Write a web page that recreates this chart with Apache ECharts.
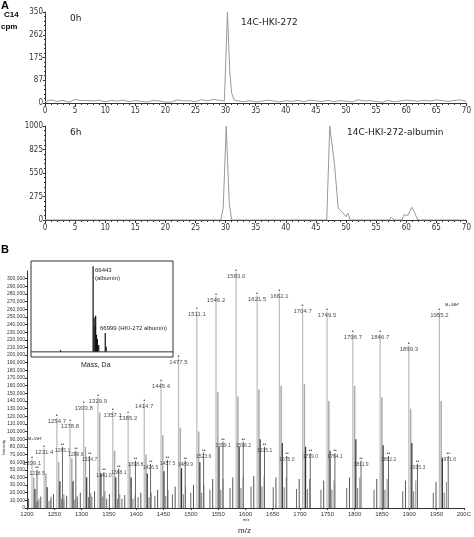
<!DOCTYPE html>
<html><head><meta charset="utf-8">
<script src="https://cdn.jsdelivr.net/npm/echarts@6/dist/echarts.min.js"></script>
<style>html,body{margin:0;padding:0;background:#fff}#main{width:474px;height:537px}</style>
</head><body><div id="main"></div>
<script>
// panel A, radiochromatograms (minutes, cpm)
var trace0h = [[0,5],[1,12],[2,6],[3,10],[4,3],[5,14],[6,9],[7,10],[8,8],[9,11],[10,4],[11,10],[12,7],[13,11],[14,5],[15,9],[16,6],[17,4],[18,10],[19,8],[20,3],[21,4],[22,12],[23,8],[24,9],[25,5],[26,13],[27,8],[28,14],[29,10],[29.8,8],[30.3,350],[30.7,120],[31,38],[31.4,12],[32,8],[33,5],[34,9],[35,4],[36,7],[37,11],[38,8],[39,4],[40,9],[41,6],[42,10],[43,5],[44,11],[45,8],[46,6],[47,10],[48,5],[49,9],[50,7],[51,4],[52,12],[53,8],[54,9],[55,6],[56,3],[57,10],[58,5],[59,8],[60,11],[61,9],[62,7],[63,10],[64,8],[65,12],[66,9],[67,6],[68,10],[69,12],[70,5]];
var trace6h = [[0,0],[29.2,0],[29.6,140],[30.1,1100],[30.6,200],[31,0],[46.8,0],[47.3,1100],[48.1,640],[48.7,140],[49.4,90],[50,40],[50.3,80],[50.7,0],[57.2,0],[57.5,35],[58,0],[59.3,0],[59.6,60],[60.3,55],[60.9,150],[61.2,170],[61.5,70],[61.9,0],[70,0]];
var yTicks0h = ['0','87','175','262','350'];
var yTicks6h = ['0','275','550','825','1000'];

// panel B, ESI spectrum
var starMz = [1209.1,1231.4,1254.7,1278.8,1303.8,1329.9,1357.1,1385.2,1414.7,1445.4,1477.5,1511.1,1546.2,1583.0,1621.5,1662.1,1704.7,1749.5,1796.7,1846.7,1899.3,1955.2];
var starInt = [64000,78000,118000,112000,135000,145000,127000,122000,138000,165000,196000,258000,277000,308000,278000,282000,262000,257000,228000,228000,213000,257000];
var grayInt = [40000,45000,60000,65000,80000,125000,75000,60000,70000,95000,105000,100000,152000,146000,155000,160000,162000,140000,160000,145000,130000,140000];
var darkInt = [25000,27000,35000,35000,40000,45000,40000,40000,45000,48000,52000,60000,80000,80000,90000,85000,80000,75000,90000,82000,85000,65000];
var lowA = [12000,15000,18000,16000,20000,22000,18000,17000,20000,24000,28000,30000,38000,40000,42000,40000,38000,36000,40000,38000,36000,34000];
var lowB = [8000,9000,12000,11000,14000,15000,12000,12000,14000,16000,18000,20000,24000,26000,28000,27000,25000,24000,26000,24000,22000,20000];
var dstarMz = [1218.5,1265.1,1289.6,1314.7,1341.0,1368.1,1398.8,1426.5,1457.5,1489.9,1523.6,1559.1,1596.2,1635.1,1676.0,1719.0,1764.1,1811.9,1862.2,1915.3,1971.6];
var dstarInt = [50000,80000,75000,68000,47000,52000,62000,58000,63000,62000,73000,87000,87000,80000,68000,72000,72000,62000,68000,58000,68000];

// inset, deconvoluted mass
var insetMass = [64950,66443,66490,66530,66560,66600,66640,66700,66999,67040];
var insetInt = [2,100,40,30,42,20,15,8,22,6];

var chart = echarts.init(document.getElementById('main'));
var F = 'Liberation Sans';
var mk = function (xs, ys, off) { return xs.map(function (x, i) { return [x + off, ys[i]]; }); };

function chromX(gi) {
    return {gridIndex: gi, type: 'value', min: 0, max: 70, interval: 5,
        axisLine: {onZero: false, lineStyle: {color: '#333'}},
        axisTick: {length: 3, lineStyle: {color: '#333'}},
        minorTick: {show: true, splitNumber: 5, length: 2, lineStyle: {color: '#333'}},
        axisLabel: {fontFamily: 'DejaVu Sans Condensed', fontSize: 8, color: '#333', margin: 4},
        splitLine: {show: false}};
}
function chromY(gi, max, step, ticks) {
    return {gridIndex: gi, type: 'value', min: 0, max: max, interval: step,
        axisLine: {show: true, lineStyle: {color: '#333'}}, axisTick: {show: true, length: 2},
        minorTick: {show: true, splitNumber: 5, length: 1},
        axisLabel: {fontFamily: 'DejaVu Sans Condensed', fontSize: 8, color: '#333', margin: 2,
            formatter: function (v) { return ticks[Math.round(v / step)]; }},
        splitLine: {show: false}};
}

chart.setOption({
    animation: false,
    grid: [
        {left: 45, right: 4, top: 12, height: 91},
        {left: 45, right: 4, top: 126, height: 94},
        {left: 27, right: 4, top: 271, bottom: 29},
        {left: 31, top: 261, width: 142, height: 96, show: true, backgroundColor: '#fff', borderColor: '#333', borderWidth: 1, z: 10}
    ],
    xAxis: [
        chromX(0), chromX(1),
        {gridIndex: 2, type: 'value', min: 1200, max: 2000, interval: 50,
            axisLine: {onZero: false, lineStyle: {color: '#333'}}, axisTick: {length: 2},
            axisLabel: {fontFamily: F, fontSize: 6, color: '#333', margin: 3,
                formatter: function (v) { return v === 2000 ? '200C' : v; }},
            splitLine: {show: false}},
        {gridIndex: 3, type: 'value', min: 63600, max: 70100, show: false, z: 11}
    ],
    yAxis: [
        chromY(0, 350, 87.5, yTicks0h),
        chromY(1, 1100, 275, yTicks6h),
        {gridIndex: 2, type: 'value', min: 0, max: 310000, interval: 10000,
            axisLine: {show: true, lineStyle: {color: '#333'}}, axisTick: {show: true, length: 2},
            axisLabel: {fontFamily: F, fontSize: 5, color: '#333', margin: 2, showMaxLabel: false},
            splitLine: {show: false}},
        {gridIndex: 3, type: 'value', min: -6, max: 106, show: false, z: 11}
    ],
    series: [
        {type: 'line', xAxisIndex: 0, yAxisIndex: 0, data: trace0h, symbol: 'none', lineStyle: {color: '#999', width: 1}},
        {type: 'line', xAxisIndex: 1, yAxisIndex: 1, data: trace6h, symbol: 'none', lineStyle: {color: '#999', width: 1}},
        {type: 'bar', xAxisIndex: 2, yAxisIndex: 2, barWidth: 1, barGap: '-100%', data: mk(starMz, lowA, -6), itemStyle: {color: '#555'}},
        {type: 'bar', xAxisIndex: 2, yAxisIndex: 2, barWidth: 1, barGap: '-100%', data: mk(starMz, lowB, 9), itemStyle: {color: '#777'}},
        {type: 'bar', xAxisIndex: 2, yAxisIndex: 2, barWidth: 1, barGap: '-100%', data: mk(starMz, lowB, -11), itemStyle: {color: '#666'}},
        {type: 'bar', xAxisIndex: 2, yAxisIndex: 2, barWidth: 1, barGap: '-100%', data: mk(starMz, lowA, 13), itemStyle: {color: '#888'}},
        {type: 'bar', xAxisIndex: 2, yAxisIndex: 2, barWidth: 1.5, barGap: '-100%', data: mk(starMz, grayInt, 3), itemStyle: {color: '#aaa'}},
        {type: 'bar', xAxisIndex: 2, yAxisIndex: 2, barWidth: 1.2, barGap: '-100%', data: mk(starMz, darkInt, 5.5), itemStyle: {color: '#333'}},
        {type: 'bar', xAxisIndex: 2, yAxisIndex: 2, barWidth: 1, barGap: '-100%', data: mk(dstarMz, dstarInt, 0), itemStyle: {color: '#666'}},
        {type: 'bar', xAxisIndex: 2, yAxisIndex: 2, barWidth: 1.2, barGap: '-100%', data: mk(starMz, starInt, 0),
            itemStyle: {color: '#bbb'}},
        {type: 'scatter', xAxisIndex: 2, yAxisIndex: 2, symbolSize: 0, z: 5,
            data: starMz.map(function (x, i) { return {value: [x, starInt[i]], name: x.toFixed(1)}; }),
            label: {show: true, position: 'bottom', distance: 0, offset: [0, -5], fontFamily: F, fontSize: 6, color: '#222', lineHeight: 6,
                formatter: function (p) { return '•\n' + p.name; }}},
        {type: 'scatter', xAxisIndex: 2, yAxisIndex: 2, symbolSize: 0, z: 5,
            data: dstarMz.map(function (x, i) { return {value: [x, dstarInt[i]], name: x.toFixed(1)}; }),
            label: {show: true, position: 'bottom', distance: 0, offset: [0, -5], fontFamily: F, fontSize: 5, color: '#222', lineHeight: 6,
                formatter: function (p) { return '••\n' + p.name; }}},
        {type: 'bar', xAxisIndex: 3, yAxisIndex: 3, barWidth: 1.2, z: 12, data: mk(insetMass, insetInt, 0), itemStyle: {color: '#111'}},
        {type: 'line', xAxisIndex: 3, yAxisIndex: 3, z: 12, symbol: 'none', data: [[63600, 0], [70100, 0]], lineStyle: {color: '#333', width: 1}}
    ],
    graphic: [
        {type: 'text', left: 1, top: 0, style: {text: 'A', font: 'bold 11px Liberation Sans', fill: '#000'}},
        {type: 'text', left: 4, top: 11, style: {text: 'C14', font: 'bold 8px Liberation Sans', fill: '#000'}},
        {type: 'text', left: 1, top: 23, style: {text: 'cpm', font: 'bold 8px Liberation Sans', fill: '#000'}},
        {type: 'text', left: 70, top: 14, style: {text: '0h', font: '9px DejaVu Sans', fill: '#222'}},
        {type: 'text', left: 241, top: 18, style: {text: '14C-HKI-272', font: '9px DejaVu Sans', fill: '#222'}},
        {type: 'text', left: 70, top: 128, style: {text: '6h', font: '9px DejaVu Sans', fill: '#222'}},
        {type: 'text', left: 347, top: 128, style: {text: '14C-HKI-272-albumin', font: '9px DejaVu Sans', fill: '#222'}},
        {type: 'text', left: 1, top: 244, style: {text: 'B', font: 'bold 11px Liberation Sans', fill: '#000'}},
        {type: 'text', left: 95, top: 266, z: 20, style: {text: '66443\n(albumin)', font: '6px Liberation Sans', lineHeight: 8, fill: '#222'}},
        {type: 'text', left: 100, top: 325, z: 20, style: {text: '66999 (HKI-272 albumin)', font: '6px Liberation Sans', fill: '#222'}},
        {type: 'text', left: 81, top: 362, style: {text: 'Mass, Da', font: '7px Liberation Sans', fill: '#222'}},
        {type: 'text', left: 2, top: 440, rotation: Math.PI / 2, style: {text: 'Intensity', font: '4px Liberation Sans', fill: '#222'}},
        {type: 'text', left: 28, top: 437, style: {text: 'M+55H⁺', font: '4px Liberation Sans', fill: '#222'}},
        {type: 'text', left: 445, top: 303, style: {text: 'M+34H⁺', font: '4px Liberation Sans', fill: '#222'}},
        {type: 'text', left: 243, top: 518, style: {text: 'm/z', font: '4px Liberation Sans', fill: '#222'}},
        {type: 'text', left: 238, top: 527, style: {text: 'm/z', font: '8px Liberation Sans', fill: '#222'}}
    ]
});
</script></body></html>
